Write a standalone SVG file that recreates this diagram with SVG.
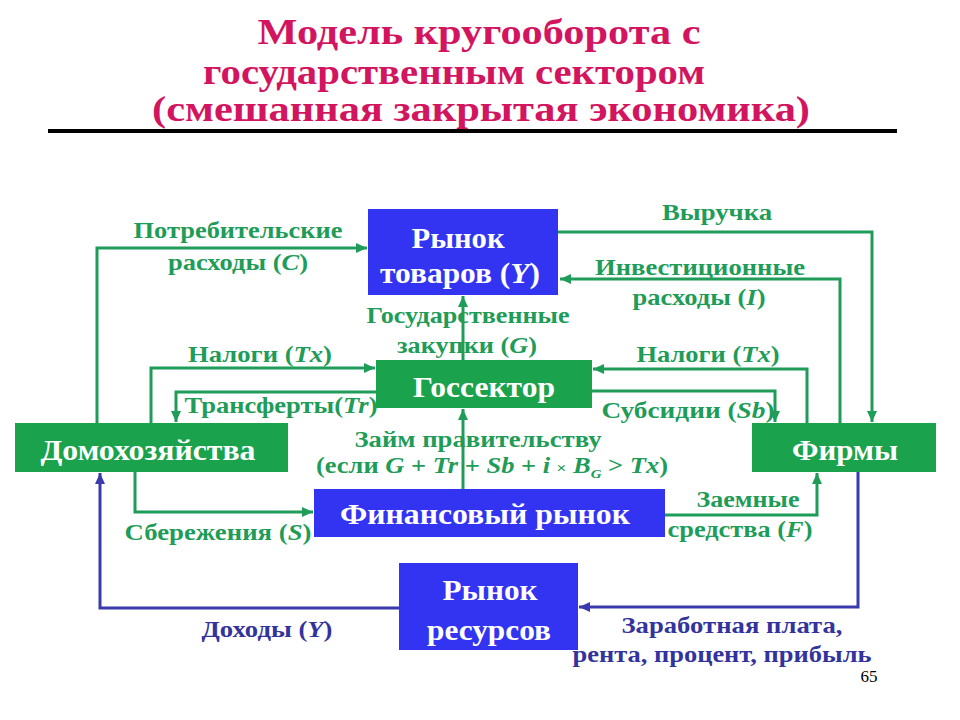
<svg xmlns="http://www.w3.org/2000/svg" width="960" height="720" viewBox="0 0 960 720">
<defs>
<style>
.title{font-family:"Liberation Serif","Times New Roman",serif;font-weight:bold;font-size:36px;fill:#D3145F;text-anchor:middle}
.ntext{font-family:"Liberation Serif","Times New Roman",serif;font-weight:bold;fill:#FFFFFF;text-anchor:middle;font-size:30px}
.glab{font-family:"Liberation Serif","Times New Roman",serif;font-weight:bold;font-size:23px;fill:#1E9C58;text-anchor:middle}
.blab{font-family:"Liberation Serif","Times New Roman",serif;font-weight:bold;font-size:23px;fill:#33339E;text-anchor:middle}
.green{fill:#1AA24C}
.blue{fill:#3333F2}
.gline{fill:none;stroke:#1E9C58;stroke-width:3;marker-end:url(#ga)}
.bline{fill:none;stroke:#3A3AAE;stroke-width:3;marker-end:url(#ba)}
.it{font-style:italic}
</style>
<marker id="ga" markerUnits="userSpaceOnUse" markerWidth="12" markerHeight="12" viewBox="0 0 12 12" refX="11" refY="6" orient="auto">
<path d="M0,1 L11,6 L0,11 Z" fill="#1E9C58"/>
</marker>
<marker id="ba" markerUnits="userSpaceOnUse" markerWidth="12" markerHeight="12" viewBox="0 0 12 12" refX="11" refY="6" orient="auto">
<path d="M0,1 L11,6 L0,11 Z" fill="#3A3AAE"/>
</marker>
</defs>
<rect width="960" height="720" fill="#FFFFFF"/>

<g id="title">
<text class="title" x="479" y="44" textLength="443" lengthAdjust="spacingAndGlyphs">Модель кругооборота с</text>
<text class="title" x="454" y="84" textLength="502" lengthAdjust="spacingAndGlyphs">государственным сектором</text>
<text class="title" x="481" y="121" textLength="658" lengthAdjust="spacingAndGlyphs">(смешанная закрытая экономика)</text>
<line x1="48" y1="131" x2="897" y2="131" stroke="#000000" stroke-width="4"/>
</g>

<g id="connectors">
<polyline class="gline" points="97,423 97,248 367,248"/>
<polyline class="gline" points="558,232 872,232 872,422"/>
<polyline class="gline" points="840,423 840,279 560,279"/>
<polyline class="gline" points="807,423 807,369 593,369"/>
<polyline class="gline" points="592,391 775,391 775,422"/>
<polyline class="gline" points="151,423 151,368 375,368"/>
<polyline class="gline" points="376,392 176,392 176,422"/>
<polyline class="gline" points="463,360 463,296"/>
<polyline class="gline" points="463,489 463,409"/>
<polyline class="gline" points="135,472 135,512 313,512"/>
<polyline class="gline" points="665,515 817,515 817,473"/>
<polyline class="bline" points="399,608 100,608 100,473"/>
<polyline class="bline" points="858,472 858,607 579,607"/>
</g>

<g id="labels">
<text class="glab" x="238" y="238" textLength="209" lengthAdjust="spacingAndGlyphs">Потребительские</text>
<text class="glab" x="238" y="270" textLength="140" lengthAdjust="spacingAndGlyphs">расходы (<tspan class="it">C</tspan>)</text>
<text class="glab" x="717" y="220" textLength="110" lengthAdjust="spacingAndGlyphs">Выручка</text>
<text class="glab" x="700" y="275" textLength="210" lengthAdjust="spacingAndGlyphs">Инвестиционные</text>
<text class="glab" x="699" y="305" textLength="133" lengthAdjust="spacingAndGlyphs">расходы (<tspan class="it">I</tspan>)</text>
<text class="glab" x="468" y="323" textLength="203" lengthAdjust="spacingAndGlyphs">Государственные</text>
<text class="glab" x="467" y="353" textLength="140" lengthAdjust="spacingAndGlyphs">закупки (<tspan class="it">G</tspan>)</text>
<text class="glab" x="260" y="362" textLength="144" lengthAdjust="spacingAndGlyphs">Налоги (<tspan class="it">Tx</tspan>)</text>
<text class="glab" x="281" y="413" textLength="193" lengthAdjust="spacingAndGlyphs">Трансферты(<tspan class="it">Tr</tspan>)</text>
<text class="glab" x="708" y="362" textLength="143" lengthAdjust="spacingAndGlyphs">Налоги (<tspan class="it">Tx</tspan>)</text>
<text class="glab" x="688" y="418" textLength="173" lengthAdjust="spacingAndGlyphs">Субсидии (<tspan class="it">Sb</tspan>)</text>
<text class="glab" x="478" y="447" textLength="247" lengthAdjust="spacingAndGlyphs">Займ правительству</text>
<text class="glab" x="492" y="473" textLength="352" lengthAdjust="spacingAndGlyphs">(если <tspan class="it">G</tspan> + <tspan class="it">Tr</tspan> + <tspan class="it">Sb</tspan> + <tspan class="it">i</tspan> <tspan font-size="15">×</tspan> <tspan class="it">B</tspan><tspan class="it" font-size="13" dy="5">G</tspan><tspan dy="-5"> &gt; </tspan><tspan class="it">Tx</tspan>)</text>
<text class="glab" x="218" y="540" textLength="187" lengthAdjust="spacingAndGlyphs">Сбережения (<tspan class="it">S</tspan>)</text>
<text class="glab" x="748" y="507" textLength="103" lengthAdjust="spacingAndGlyphs">Заемные</text>
<text class="glab" x="740" y="537" textLength="145" lengthAdjust="spacingAndGlyphs">средства (<tspan class="it">F</tspan>)</text>
<text class="blab" x="267" y="637" textLength="131" lengthAdjust="spacingAndGlyphs">Доходы (<tspan class="it">Y</tspan>)</text>
<text class="blab" x="732" y="633" textLength="221" lengthAdjust="spacingAndGlyphs">Заработная плата,</text>
<text class="blab" x="722" y="662" textLength="299" lengthAdjust="spacingAndGlyphs">рента, процент, прибыль</text>
<text x="869" y="682" font-family="Liberation Serif, Times New Roman, serif" font-size="17" fill="#000000" text-anchor="middle">65</text>
</g>

<g id="node-goods-market">
<rect class="blue" x="368" y="209" width="190" height="86"/>
<text class="ntext" x="458" y="248" textLength="93" lengthAdjust="spacingAndGlyphs">Рынок</text>
<text class="ntext" x="460" y="283" textLength="160" lengthAdjust="spacingAndGlyphs">товаров (<tspan class="it">Y</tspan>)</text>
</g>
<g id="node-gov">
<rect class="green" x="376" y="360" width="216" height="48"/>
<text class="ntext" x="484" y="397" textLength="142" lengthAdjust="spacingAndGlyphs">Госсектор</text>
</g>
<g id="node-households">
<rect class="green" x="15" y="423" width="273" height="49"/>
<text class="ntext" x="148" y="460" textLength="215" lengthAdjust="spacingAndGlyphs">Домохозяйства</text>
</g>
<g id="node-firms">
<rect class="green" x="752" y="423" width="184" height="49"/>
<text class="ntext" x="845" y="460" textLength="106" lengthAdjust="spacingAndGlyphs">Фирмы</text>
</g>
<g id="node-financial">
<rect class="blue" x="314" y="489" width="351" height="48"/>
<text class="ntext" x="485" y="524" textLength="290" lengthAdjust="spacingAndGlyphs">Финансовый рынок</text>
</g>
<g id="node-resources">
<rect class="blue" x="399" y="563" width="179" height="87"/>
<text class="ntext" x="490" y="600" textLength="95" lengthAdjust="spacingAndGlyphs">Рынок</text>
<text class="ntext" x="489" y="640" textLength="124" lengthAdjust="spacingAndGlyphs">ресурсов</text>
</g>
</svg>
